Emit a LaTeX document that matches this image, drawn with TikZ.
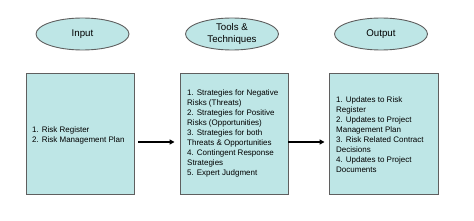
\documentclass[tikz,border=0pt]{standalone}
\usepackage{fontspec}
\setmainfont{Liberation Sans}
\usetikzlibrary{arrows.meta,shapes.geometric}
\definecolor{boxfill}{RGB}{190,230,230}
\definecolor{boxline}{RGB}{95,95,95}
\begin{document}
\begin{tikzpicture}[x=1pt,y=1pt,
  phase/.style={ellipse,draw=boxline,fill=boxfill,line width=0.9pt,minimum width=93pt,minimum height=32pt,inner sep=0pt,align=center,font=\fontsize{9.7}{12}\selectfont},
  listbox/.style={draw=boxline,fill=boxfill,line width=0.9pt,minimum height=121pt,inner sep=0pt},
  listtext/.style={anchor=west,align=left,inner sep=0pt,font=\fontsize{8}{9.9}\selectfont},
  flow/.style={-{Triangle[length=5pt,width=5pt]},line width=1.4pt,black}]
\useasboundingbox (0,0) rectangle (474,220);
\node[phase] (inE) at (82.5,186) {Input};
\node[phase] (toE) at (232,186) {Tools \&\\Techniques};
\node[phase] (ouE) at (381,186) {Output};
\node[listbox,minimum width=108pt] (inB) at (80,86.5) {};
\node[listbox,minimum width=108pt] (toB) at (234,86.5) {};
\node[listbox,minimum width=109pt] (ouB) at (383.5,86.5) {};
\node[listtext] (inT) at (32,85) {1. Risk Register\\2. Risk Management Plan};
\node[listtext] (toT) at (187,86.5) {1. Strategies for Negative\\Risks (Threats)\\2. Strategies for Positive\\Risks (Opportunities)\\3. Strategies for both\\Threats \& Opportunities\\4. Contingent Response\\Strategies\\5. Expert Judgment};
\node[listtext] (ouT) at (336,85.5) {1. Updates to Risk\\Register\\2. Updates to Project\\Management Plan\\3. Risk Related Contract\\Decisions\\4. Updates to Project\\Documents};
\draw[flow,shorten <=4pt,shorten >=5pt] (inB.east |- 0,78) -- (toB.west |- 0,78);
\draw[flow,shorten >=4pt] (toB.east |- 0,78) -- (ouB.west |- 0,78);
\end{tikzpicture}
\end{document}
